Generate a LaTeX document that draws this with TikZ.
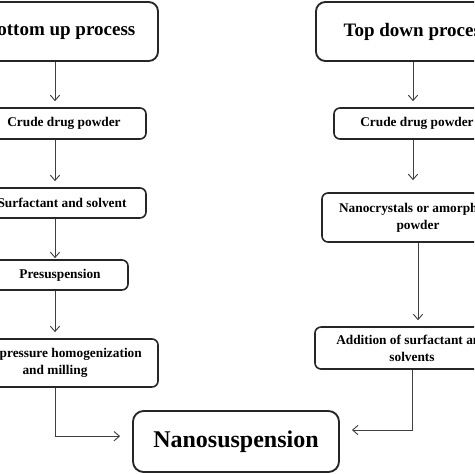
\documentclass[tikz,border=0pt]{standalone}
\usepackage{fontspec}
\setmainfont{Liberation Serif}
\usetikzlibrary{arrows.meta,positioning}

\begin{document}
\begin{tikzpicture}[
    auto,
    title/.style={
        rectangle,
        draw=black!85,
        line width=1.4pt,
        rounded corners=7pt,
        font=\fontsize{14.25}{17}\selectfont\bfseries,
        inner sep=0pt,
        minimum height=44.25pt
    },
    block/.style={
        rectangle,
        draw=black!85,
        line width=1.2pt,
        rounded corners=4.5pt,
        font=\fontsize{10}{12.75}\selectfont\bfseries,
        align=center,
        inner sep=0pt,
        minimum height=23.25pt
    },
    result/.style={
        rectangle,
        draw=black!85,
        line width=1.4pt,
        rounded corners=8pt,
        font=\fontsize{18}{22}\selectfont\bfseries,
        inner sep=0pt,
        minimum width=154.5pt,
        minimum height=45.75pt
    },
    line/.style={
        draw=black!75, line width=0.7pt,
        -{Straight Barb[length=4pt,width=7pt]},
        shorten >=4.5pt
    }
]

    \useasboundingbox (0,0) rectangle (355.5pt,-355.5pt);
    \clip (0,0) rectangle (355.5pt,-355.5pt);

    % Nodes
    \node [title, minimum width=147pt] (bottom) at (45pt,-23.625pt) {Bottom up process};
    \node [block, below of=bottom, node distance=69pt, xshift=3pt, minimum width=123pt] (crude1) {Crude drug powder};
    \node [block, below of=crude1, node distance=59.6pt, xshift=-1.5pt, minimum width=126pt, minimum height=22.5pt] (surf) {Surfactant and solvent};
    \node [block, below of=surf, node distance=54pt, xshift=-1.5pt, minimum width=102pt, minimum height=22.5pt] (presusp) {Presuspension};
    \node [block, below of=presusp, node distance=66pt, xshift=-3.75pt, minimum width=154.5pt, minimum height=36pt] (hph) {High pressure homogenization\\and milling};

    \node [title, right of=bottom, node distance=267pt, minimum width=150pt] (topdown) {Top down process};
    \node [block, below of=topdown, node distance=69pt, xshift=0.75pt, minimum width=124.5pt] (crude2) {Crude drug powder};
    \node [block, below of=crude2, node distance=70.5pt, xshift=0.75pt, minimum width=144pt, minimum height=36.75pt] (nanocr) {Nanocrystals or amorphous\\powder};
    \node [block, below of=nanocr, node distance=97.9pt, xshift=-4.5pt, minimum width=145.5pt, minimum height=31.5pt] (addition) {Addition of surfactant and\\solvents};

    \node [result, below of=hph, node distance=58.9pt, xshift=135.75pt] (nano) {Nanosuspension};

    \coordinate (lcol) at (41.25pt,0);
    \coordinate (rcol) at (309.75pt,0);

    % Edges
    \path [line] (bottom.south -| lcol) -- (crude1.north -| lcol);
    \path [line] (crude1.south -| lcol) -- (surf.north -| lcol);
    \path [line, shorten >=0.75pt] (surf.south -| lcol) -- (presusp.north -| lcol);
    \path [line] (presusp.south -| lcol) -- (hph.north -| lcol);
    \path [line, shorten >=9pt] (hph.south -| lcol) |- ([yshift=4pt]nano.west);

    \path [line] (topdown.south -| rcol) -- (crude2.north -| rcol);
    \path [line, shorten >=9pt] (crude2.south -| rcol) -- (nanocr.north -| rcol);
    \path [line] (nanocr.south) -- (addition.north -| nanocr.south);
    \path [line, shorten >=9pt] (addition.south) |- ([yshift=8.6pt]nano.east);

\end{tikzpicture}
\end{document}
